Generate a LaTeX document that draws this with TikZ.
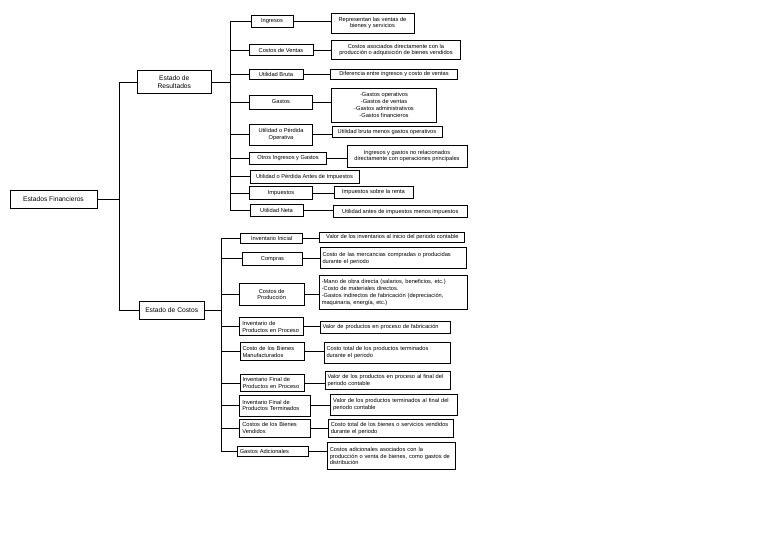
\documentclass[tikz,border=0pt]{standalone}
\usepackage{fontspec}
\setmainfont{Liberation Sans}
\usepackage{tikz}

\begin{document}
\begin{tikzpicture}[x=1pt,y=-1pt,
    caja/.style={draw, line width=0.8pt, inner sep=1.5pt, align=center, font=\fontsize{5.7}{6.9}\selectfont},
    cajai/.style={caja, inner xsep=2.5pt, inner ysep=1pt, align=left},
    cajam/.style={caja, font=\fontsize{6.7}{8}\selectfont},
    linea/.style={line width=0.8pt}]
  \fill[white] (0,0) rectangle (768,543);
  \useasboundingbox (0,0) rectangle (768,543);
  % raiz
  \node[cajam, minimum width=87pt, minimum height=18pt] (ef) at (53.5,199) {Estados Financieros};
  \node[cajam, minimum width=74pt, minimum height=23pt] (er) at (174.3,82) {Estado de\\Resultados};
  \node[cajam, minimum width=65pt, minimum height=18pt] (ec) at (171.7,310.5) {Estado de Costos};
  % estado de resultados
  \node[caja, minimum width=42pt, minimum height=12pt] (ing) at (272,21) {Ingresos};
  \node[caja, minimum width=83pt, minimum height=20pt] (ingd) at (372.5,23) {Representan las ventas de\\bienes y servicios};
  \node[caja, minimum width=64pt, minimum height=11pt] (cv) at (281,50) {Costos de Ventas};
  \node[caja, minimum width=129pt, minimum height=19pt] (cvd) at (396,50) {Costos asociados directamente con la\\producción o adquisición de bienes vendidos};
  \node[caja, minimum width=54pt, minimum height=10pt] (ub) at (276,74) {Utilidad Bruta};
  \node[caja, minimum width=127pt, minimum height=10pt] (ubd) at (394,74) {Diferencia entre ingresos y costo de ventas};
  \node[caja, minimum width=63pt, minimum height=14pt] (gas) at (281,102) {Gastos};
  \node[caja, minimum width=105pt, minimum height=34pt] (gasd) at (384,105) {-Gastos operativos\\-Gastos de ventas\\-Gastos administrativos\\-Gastos financieros};
  \node[caja, minimum width=63pt, minimum height=21pt] (upo) at (281,134.5) {Utilidad o Pérdida\\Operativa};
  \node[caja, minimum width=110pt, minimum height=11pt] (upod) at (387,132) {Utilidad bruta menos gastos operativos};
  \node[caja, minimum width=77pt, minimum height=12pt] (oig) at (288,158) {Otros Ingresos y Gastos};
  \node[caja, minimum width=120pt, minimum height=22pt] (oigd) at (407,156) {Ingresos y gastos no relacionados\\directamente con operaciones principales};
  \node[caja, minimum width=109pt, minimum height=13pt] (upai) at (304.5,176.5) {Utilidad o Pérdida Antes de Impuestos};
  \node[caja, minimum width=63pt, minimum height=13pt] (imp) at (281,193.3) {Impuestos};
  \node[caja, minimum width=79pt, minimum height=12pt] (impd) at (373.5,192.5) {Impuestos sobre la renta};
  \node[caja, minimum width=53pt, minimum height=12pt] (un) at (276.5,210.5) {Utilidad Neta};
  \node[caja, minimum width=134pt, minimum height=12pt] (und) at (400.3,211.7) {Utilidad antes de impuestos menos impuestos};
  % estado de costos
  \node[caja, minimum width=62pt, minimum height=10pt] (ii) at (271.7,238.3) {Inventario Inicial};
  \node[caja, minimum width=145pt, minimum height=10pt] (iid) at (392.3,237.5) {Valor de los inventarios al inicio del periodo contable};
  \node[caja, minimum width=60pt, minimum height=13pt] (com) at (272.5,258.7) {Compras};
  \node[cajai, text width=141pt, minimum height=21pt] (comd) at (393,258.3) {Costo de las mercancias compradas o producidas\\durante el periodo};
  \node[caja, minimum width=65pt, minimum height=22pt] (cp) at (271.7,294.5) {Costos de\\Producción};
  \node[cajai, text width=143pt, minimum height=34pt] (cpd) at (393.3,292.8) {-Mano de obra directa (salarios, beneficios, etc.)\\-Costo de materiales directos.\\-Gastos indirectos de fabricación (depreciación,\\maquinaria, energía, etc.)};
  \node[cajai, text width=59pt, minimum height=18pt] (ipp) at (271.8,326.7) {Inventario de\\Productos en Proceso};
  \node[cajai, text width=125pt, minimum height=12pt] (ippd) at (385,327) {Valor de productos en proceso de fabricación};
  \node[cajai, text width=59pt, minimum height=18pt] (cbm) at (272,351.8) {Costo de los Bienes\\Manufacturados};
  \node[cajai, text width=121pt, minimum height=21pt] (cbmd) at (387,352.5) {Costo total de los productos terminados\\durante el periodo};
  \node[cajai, text width=59pt, minimum height=17pt] (ifpp) at (272,383) {Inventario Final de\\Productos en Proceso};
  \node[cajai, text width=120pt, minimum height=18pt] (ifppd) at (387.5,380.5) {Valor de los productos en proceso al final del\\periodo contable};
  \node[cajai, text width=66pt, minimum height=21pt] (ifpt) at (275.3,405.5) {Inventario Final de\\Productos Terminados};
  \node[cajai, text width=122pt, minimum height=21pt] (ifptd) at (394.2,404.5) {Valor de los productos terminados al final del\\periodo contable};
  \node[cajai, text width=66pt, minimum height=18pt] (cbv) at (275.3,428.3) {Costos de los Bienes\\Vendidos};
  \node[cajai, text width=120pt, minimum height=18pt] (cbvd) at (390.8,428.3) {Costo total de los bienes o servicios vendidos\\durante el periodo};
  \node[cajai, text width=66pt, minimum height=10pt] (ga) at (272.8,451.3) {Gastos Adicionales};
  \node[cajai, text width=123pt, minimum height=27pt] (gad) at (391.3,456) {Costos adicionales asociados con la\\producción o venta de bienes, como gastos de\\distribución};
  % conectores
  \coordinate (rb) at (119,0);
  \coordinate (erb) at (230,0);
  \coordinate (ecb) at (221,0);
  \draw[linea] (ef.east) -- (rb |- ef.east);
  \draw[linea] (er.west) -- (rb |- er.west) -- (rb |- ec.west) -- (ec.west);
  \draw[linea] (er.east) -- (erb |- er.east);
  \draw[linea] (erb |- ing.west) -- (erb |- un.west);
  \draw[linea] (ec.east) -- (ecb |- ec.east);
  \draw[linea] (ecb |- ii.west) -- (ecb |- ga.west);
  \foreach \n in {ing,cv,ub,gas,upo,oig,upai,imp,un}
    \draw[linea] (erb |- \n.west) -- (\n.west);
  \foreach \n in {ii,com,cp,ipp,cbm,ifpp,ifpt,cbv,ga}
    \draw[linea] (ecb |- \n.west) -- (\n.west);
  \foreach \a/\b in {ing/ingd,cv/cvd,ub/ubd,gas/gasd,upo/upod,oig/oigd,imp/impd,un/und,
      ii/iid,com/comd,cp/cpd,ipp/ippd,cbm/cbmd,ifpp/ifppd,ifpt/ifptd,cbv/cbvd,ga/gad}
    \draw[linea] (\a.east) -- (\a.east -| \b.west);
\end{tikzpicture}
\end{document}
